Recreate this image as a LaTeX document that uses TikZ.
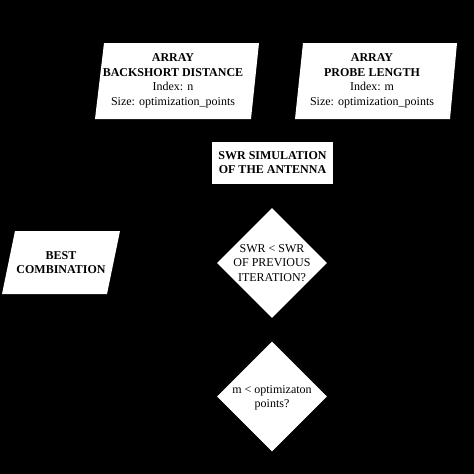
\documentclass[tikz,border=0pt]{standalone}
\usepackage{fontspec}
\setmainfont{Liberation Serif}
\usetikzlibrary{shapes.geometric}
\begin{document}
\begin{tikzpicture}[x=1pt,y=-1pt,
  shapefill/.style={fill=white,draw=none},
  lbl/.style={align=center,text=black,font=\fontsize{12}{14.5}\selectfont,inner sep=0pt},
  blbl/.style={lbl,font=\fontsize{12}{14}\selectfont\bfseries},
  decision/.style={diamond,fill=white,draw=none,minimum width=110pt,minimum height=110pt,inner sep=0pt}]
\fill[black] (0,0) rectangle (474,474);
\useasboundingbox (0,0) rectangle (474,474);
% array backshort distance
\fill[white] (104,43) -- (259,43) -- (251,119) -- (95,119) -- cycle;
\node[lbl] (arrn) at (173,81) {\textbf{ARRAY}\\\textbf{BACKSHORT DISTANCE}\\Index: n\\Size: optimization\_points};
% array probe length
\fill[white] (303,43) -- (457,43) -- (450,119) -- (295,119) -- cycle;
\node[lbl] (arrm) at (372,81) {\textbf{ARRAY}\\\textbf{PROBE LENGTH}\\Index: m\\Size: optimization\_points};
% simulation box
\fill[white] (212,142) rectangle (333,184);
\node[blbl] (sim) at (272.5,163) {SWR SIMULATION\\OF THE ANTENNA};
% best combination
\fill[white] (15,231) -- (120,231) -- (107,294) -- (2,294) -- cycle;
\node[blbl] (best) at (61,262.5) {BEST\\COMBINATION};
% decisions
\node[decision] (d1) at (272,263) {};
\node[lbl] (d1t) at (272,263) {SWR {\textless} SWR\\OF PREVIOUS\\ITERATION?};
\node[decision] (d2) at (272,396.5) {};
\node[lbl] (d2t) at (272,398) {m {\textless} optimizaton\\points?};
\end{tikzpicture}
\end{document}
